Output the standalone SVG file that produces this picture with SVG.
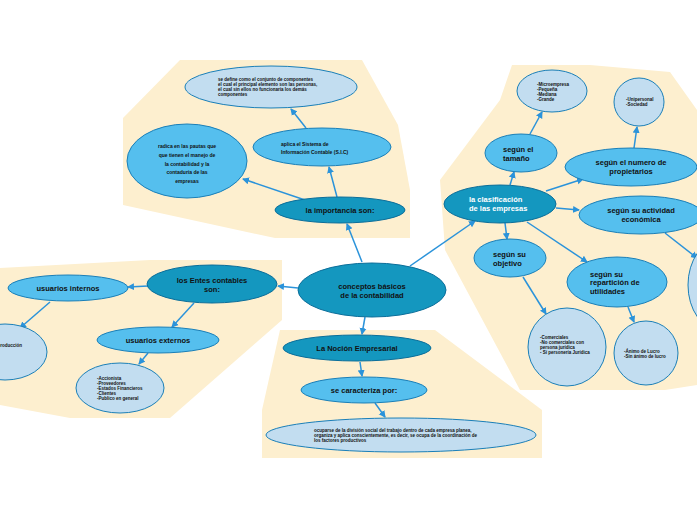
<svg xmlns="http://www.w3.org/2000/svg" width="697" height="520" viewBox="0 0 697 520">
<style>
text{font-family:"Liberation Sans",Arial,sans-serif;font-weight:bold;fill:#111}
.bg{fill:#FDEFCF}
.d{fill:#1497BF;stroke:#0B6E9A;stroke-width:1}
.m{fill:#55BFEE;stroke:#1A7FB8;stroke-width:1}
.l{fill:#C2DDF0;stroke:#1A7FB8;stroke-width:1}
.c path{stroke:#2B93DA;stroke-width:1.5;fill:none;marker-end:url(#a)}
.t9{font-size:7.5px}.t5{font-size:4.5px}.t6{font-size:5px}
</style>
<defs><marker id="a" markerWidth="8" markerHeight="8" refX="6" refY="4" orient="auto" markerUnits="userSpaceOnUse"><path d="M0,0.5 L7,4 L0,7.5 Z" fill="#2B93DA"/></marker></defs>
<rect width="697" height="520" fill="#fff"/>
<polygon class="bg" points="180,60 362,60 398,125 410,190 410,238 275,238 123,205 123,118"/>
<polygon class="bg" points="0,268 150,260 282,260 282,320 170,418 70,418 0,405"/>
<polygon class="bg" points="280,330 435,330 542,410 542,458 262,458 262,410"/>
<polygon class="bg" points="512,65 590,65 670,72 697,110 697,385 665,390 520,390 445,250 440,180 500,100"/>
<g class="c">
<path d="M362,262 L347,224"/><path d="M337,197 L329,167"/><path d="M305,200 L243,179"/><path d="M306,128 L291,109"/>
<path d="M298,288 L278,286"/><path d="M148,286 L128,287"/><path d="M194,303 L172,327"/><path d="M50,302 L20,328"/><path d="M148,353 L139,364"/>
<path d="M365,317 L362,334"/><path d="M360,362 L362,376"/><path d="M375,403 L385,417"/>
<path d="M410,266 L475,221"/><path d="M510,185 L514,172"/><path d="M530,134 L542,112"/><path d="M546,191 L583,179"/><path d="M634,148 L637,127"/>
<path d="M556,208 L579,210"/><path d="M505,223 L507,239"/><path d="M527,222 L587,262"/><path d="M523,277 L546,314"/><path d="M628,307 L634,322"/><path d="M665,233 L697,258"/>
</g>
<g id="central"><ellipse class="d" cx="372" cy="290" rx="74" ry="27"/><text class="t9" x="372" y="289" text-anchor="middle">conceptos básicos</text><text class="t9" x="372" y="298" text-anchor="middle">de la contabilidad</text></g>
<g id="importancia"><ellipse class="d" cx="340" cy="210" rx="65" ry="13"/><text class="t9" x="340" y="213" text-anchor="middle">la importancia son:</text></g>
<g id="sic"><ellipse class="m" cx="322" cy="147" rx="69" ry="19"/><text class="t6" x="281" y="146">aplica el Sistema de</text><text class="t6" x="281" y="154">Información Contable (S.I.C)</text></g>
<g id="radica"><ellipse class="m" cx="187" cy="161" rx="60" ry="37"/><text class="t6" text-anchor="middle" x="187" y="148">radica en las pautas que</text><text class="t6" text-anchor="middle" x="187" y="157">que tienen el manejo de</text><text class="t6" text-anchor="middle" x="187" y="166">la contabilidad y la</text><text class="t6" text-anchor="middle" x="187" y="174">contaduría de las</text><text class="t6" text-anchor="middle" x="187" y="183">empresas</text></g>
<g id="define"><ellipse class="l" cx="271" cy="87" rx="86" ry="21"/><text class="t5" x="218" y="81">se define como el conjunto de componentes</text><text class="t5" x="218" y="86">el cual el principal elemento son las personas,</text><text class="t5" x="218" y="91">el cual sin ellos no funcionaría los demás</text><text class="t5" x="218" y="96">componentes</text></g>
<g id="entes"><ellipse class="d" cx="212" cy="284" rx="65" ry="19"/><text class="t9" x="212" y="283" text-anchor="middle">los Entes contables</text><text class="t9" x="212" y="292" text-anchor="middle">son:</text></g>
<g id="internos"><ellipse class="m" cx="68" cy="288" rx="60" ry="13"/><text class="t9" x="68" y="291" text-anchor="middle">usuarios internos</text></g>
<g id="izq"><ellipse class="l" cx="5" cy="352" rx="42" ry="28"/><text class="t5" x="22" y="347" text-anchor="end">-Jefe de producción</text></g>
<g id="externos"><ellipse class="m" cx="158" cy="340" rx="61" ry="13"/><text class="t9" x="158" y="343" text-anchor="middle">usuarios externos</text></g>
<g id="extlist"><ellipse class="l" cx="120" cy="388" rx="44" ry="25"/><text class="t5" x="97" y="380">-Accionista</text><text class="t5" x="97" y="385">-Proveedores</text><text class="t5" x="97" y="390">-Estados Financieros</text><text class="t5" x="97" y="395">-Clientes</text><text class="t5" x="97" y="400">-Publico en general</text></g>
<g id="nocion"><ellipse class="d" cx="357" cy="348" rx="74" ry="13"/><text class="t9" x="357" y="351" text-anchor="middle">La Noción Empresarial</text></g>
<g id="caracteriza"><ellipse class="m" cx="364" cy="390" rx="63" ry="13"/><text class="t9" x="364" y="393" text-anchor="middle">se caracteriza por:</text></g>
<g id="ocuparse"><ellipse class="l" cx="401" cy="435" rx="135" ry="17"/><text class="t5" x="314" y="432">ocuparse de la división social del trabajo dentro de cada empresa planea,</text><text class="t5" x="314" y="437">organiza y aplica conscientemente, es decir, se ocupa de la coordinación de</text><text class="t5" x="314" y="442">los factores productivos</text></g>
<g id="clasificacion"><ellipse class="d" cx="500" cy="204" rx="56" ry="19"/><text class="t9" x="469" y="202" style="fill:#fff">la clasificación</text><text class="t9" x="469" y="211" style="fill:#fff">de las empresas</text></g>
<g id="tamano"><ellipse class="m" cx="521" cy="153" rx="36" ry="19"/><text class="t9" x="503" y="152">según el</text><text class="t9" x="503" y="161">tamaño</text></g>
<g id="tamlist"><ellipse class="l" cx="552" cy="91" rx="35" ry="21"/><text class="t5" x="537" y="86">-Microempresa</text><text class="t5" x="537" y="91">-Pequeña</text><text class="t5" x="537" y="96">-Mediana</text><text class="t5" x="537" y="101">-Grande</text></g>
<g id="propietarios"><ellipse class="m" cx="631" cy="167" rx="66" ry="19"/><text class="t9" x="631" y="165" text-anchor="middle">según el numero de</text><text class="t9" x="631" y="174" text-anchor="middle">propietarios</text></g>
<g id="unipersonal"><ellipse class="l" cx="639" cy="102" rx="25" ry="24"/><text class="t5" x="626" y="101">-Unipersonal</text><text class="t5" x="626" y="106">-Sociedad</text></g>
<g id="actividad"><ellipse class="m" cx="641" cy="215" rx="62" ry="19"/><text class="t9" x="641" y="213" text-anchor="middle">según su actividad</text><text class="t9" x="641" y="222" text-anchor="middle">económica</text></g>
<g id="derecha"><ellipse class="l" cx="720" cy="285" rx="32" ry="45"/></g>
<g id="objetivo"><ellipse class="m" cx="510" cy="258" rx="36" ry="19"/><text class="t9" x="493" y="257">según su</text><text class="t9" x="493" y="266">objetivo</text></g>
<g id="reparticion"><ellipse class="m" cx="617" cy="282" rx="50" ry="25"/><text class="t9" x="590" y="277">según su</text><text class="t9" x="590" y="285">repartición de</text><text class="t9" x="590" y="294">utilidades</text></g>
<g id="comerciales"><ellipse class="l" cx="567" cy="347" rx="39" ry="39"/><text class="t5" x="540" y="339">-Comerciales</text><text class="t5" x="540" y="344">-No comerciales con</text><text class="t5" x="540" y="349">persona jurídica</text><text class="t5" x="540" y="354">- Sí personería Jurídica</text></g>
<g id="animo"><ellipse class="l" cx="646" cy="353" rx="32" ry="32"/><text class="t5" x="624" y="353">-Ánimo de Lucro</text><text class="t5" x="624" y="358">-Sin ánimo de lucro</text></g>
</svg>
